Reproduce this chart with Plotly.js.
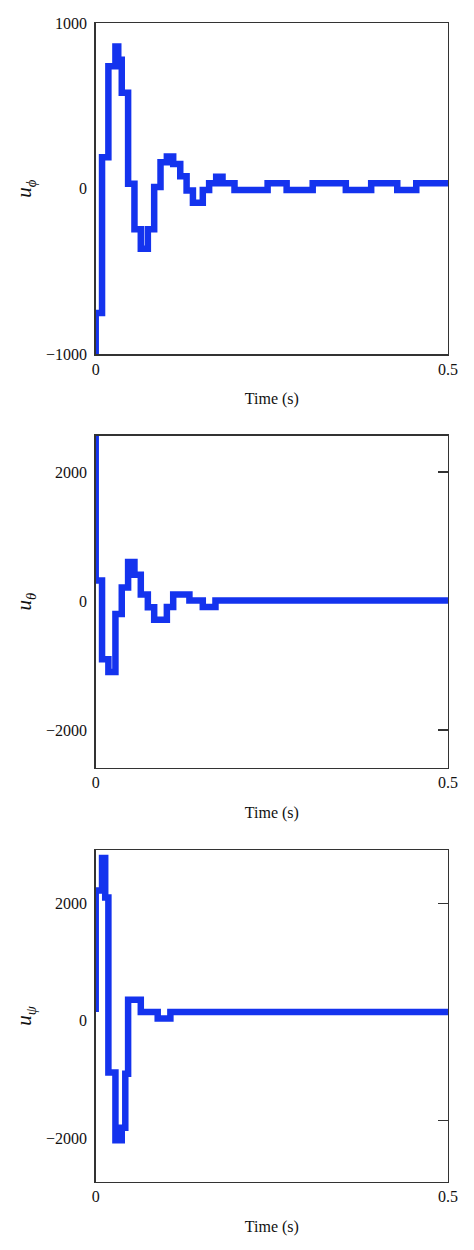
<!DOCTYPE html>
<html>
<head>
<meta charset="utf-8">
<script src="https://cdn.plot.ly/plotly-3.0.1.min.js"></script>
<style>
  html, body { margin: 0; padding: 0; background: #fff; }
  #chart { width: 474px; height: 1250px; }
</style>
</head>
<body>
<div id="chart"></div>
<script>
// control signals (zero-order hold, change points)
var tPhi = [0, 0, 0.009, 0.018, 0.028, 0.032, 0.037, 0.046, 0.055, 0.064, 0.074, 0.083, 0.092, 0.101, 0.110, 0.120, 0.129, 0.138, 0.152, 0.161, 0.171, 0.180, 0.197, 0.244, 0.271, 0.308, 0.355, 0.391, 0.428, 0.455, 0.5];
var uPhi = [-1000, -750, 190, 740, 860, 780, 580, 30, -245, -362, -245, 10, 160, 195, 150, 75, -10, -84, -7, 33, 73, 33, -7, 33, -7, 33, -7, 33, -7, 33, 33];

var tTheta = [0, 0, 0.009, 0.018, 0.028, 0.037, 0.046, 0.055, 0.064, 0.074, 0.083, 0.101, 0.110, 0.133, 0.152, 0.170, 0.5];
var uTheta = [2700, 320, -900, -1100, -200, 210, 605, 410, 100, -95, -290, -90, 100, 10, -90, 10, 10];

var tPsi = [0, 0, 0.009, 0.0135, 0.018, 0.028, 0.037, 0.042, 0.046, 0.064, 0.088, 0.106, 0.5];
var uPsi = [150, 2220, 2770, 2100, -880, -2030, -1820, -900, 360, 150, 42, 150, 150];

var xTicks = [0, 0.5];
var xTickText = ["0", "0.5"];
var phiTicks = [-1000, 0, 1000];
var thetaTicks = [-2000, 0, 2000];
var psiTicks = [-2000, 0, 2000];
var rightTickVals = [-2000, 2000];

var blue = "#1433ee";
var axisColor = "#333";
var serif = "Liberation Serif, Times New Roman, serif";

function stepTrace(x, y, xa, ya) {
    return {
        x: x,
        y: y,
        xaxis: xa,
        yaxis: ya,
        type: "scatter",
        mode: "lines",
        line: { shape: "hv", color: blue, width: 6.5 },
        hoverinfo: "skip",
        showlegend: false
    };
}

// invisible trace so the right-hand tick axis gets drawn
function holder(xa, ya) {
    return {
        x: [0.5],
        y: [0],
        xaxis: xa,
        yaxis: ya,
        type: "scatter",
        mode: "markers",
        marker: { opacity: 0 },
        hoverinfo: "skip",
        showlegend: false
    };
}

function xAxis(anchor) {
    return {
        domain: [0.2019, 0.9451],
        anchor: anchor,
        range: [0, 0.5],
        tickvals: xTicks,
        ticktext: xTickText,
        ticks: "",
        showgrid: false,
        zeroline: false,
        showline: true,
        mirror: true,
        linecolor: axisColor,
        linewidth: 1.5,
        tickfont: { family: serif, size: 16, color: "#111" },
        title: { text: "Time (s)", font: { family: serif, size: 16, color: "#111" }, standoff: 16 }
    };
}

function yAxis(domain, anchor, range, ticks, label) {
    return {
        domain: domain,
        anchor: anchor,
        range: range,
        tickvals: ticks,
        ticks: "",
        showgrid: false,
        zeroline: false,
        showline: true,
        mirror: true,
        linecolor: axisColor,
        linewidth: 1.5,
        ticklabelstandoff: 4,
        tickfont: { family: serif, size: 16, color: "#111" },
        title: { text: label, font: { family: serif, size: 21, color: "#111" }, standoff: 8 }
    };
}

// right-hand tick marks only (no labels), as in the lower two panels
function rightTicks(over, anchor, range, ticks) {
    return {
        overlaying: over,
        anchor: anchor,
        side: "right",
        range: range,
        tickvals: ticks,
        ticks: "inside",
        ticklen: 10,
        tickwidth: 1.3,
        tickcolor: axisColor,
        showticklabels: false,
        showgrid: false,
        zeroline: false,
        showline: false
    };
}

var data = [
    stepTrace(tPhi, uPhi, "x", "y"),
    stepTrace(tTheta, uTheta, "x2", "y2"),
    stepTrace(tPsi, uPsi, "x3", "y3"),
    holder("x2", "y4"),
    holder("x3", "y5")
];

var layout = {
    width: 474,
    height: 1250,
    margin: { l: 0, r: 0, t: 0, b: 0 },
    paper_bgcolor: "#fff",
    plot_bgcolor: "#fff",
    xaxis: xAxis("y"),
    yaxis: yAxis([0.7166, 0.9814], "x", [-1000, 1000], phiTicks, "<i>u<sub>ϕ</sub></i>"),
    xaxis2: xAxis("y2"),
    yaxis2: yAxis([0.3858, 0.6514], "x2", [-2584, 2563], thetaTicks, "<i>u<sub>θ</sub></i>"),
    xaxis3: xAxis("y3"),
    yaxis3: yAxis([0.0546, 0.3200], "x3", [-2738, 2908], psiTicks, "<i>u<sub>ψ</sub></i>"),
    yaxis4: rightTicks("y2", "x2", [-2584, 2563], rightTickVals),
    yaxis5: rightTicks("y3", "x3", [-3122, 2981], rightTickVals)
};

Plotly.newPlot("chart", data, layout, { displayModeBar: false, staticPlot: true });
</script>
</body>
</html>
